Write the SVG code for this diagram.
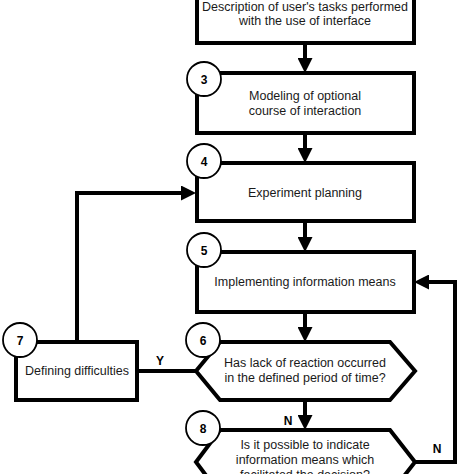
<svg xmlns="http://www.w3.org/2000/svg" width="474" height="474" viewBox="0 0 474 474">
<style>
.box{fill:#fff;stroke:#000;stroke-width:4}
.num{fill:#fff;stroke:#000;stroke-width:1.8}
.t{font-family:"Liberation Sans",Arial,sans-serif;font-size:12.5px;fill:#1a1a1a;text-anchor:middle}
.b{font-family:"Liberation Sans",Arial,sans-serif;font-size:12px;font-weight:bold;fill:#000;text-anchor:middle}
.c{fill:none;stroke:#000;stroke-width:4}
</style>
<defs>
<marker id="ah" markerUnits="userSpaceOnUse" markerWidth="15" markerHeight="15" refX="0" refY="7.5" orient="auto">
<path d="M0,0 L15,7.5 L0,15 z" fill="#000"/>
</marker>
</defs>
<g id="connectors">
<path class="c" d="M305,43 V58" marker-end="url(#ah)"/>
<path class="c" d="M305,133 V148" marker-end="url(#ah)"/>
<path class="c" d="M305,221 V237" marker-end="url(#ah)"/>
<path class="c" d="M305,312 V327" marker-end="url(#ah)"/>
<path class="c" d="M305,400 V415" marker-end="url(#ah)"/>
<path class="c" d="M137,371 H196"/>
<path class="c" d="M77,342 V193 H181" marker-end="url(#ah)"/>
<path class="c" d="M415,462 H455 V282 H429" marker-end="url(#ah)"/>
<text class="b" x="160" y="365">Y</text>
<text class="b" x="288" y="425">N</text>
<text class="b" x="437" y="453">N</text>
</g>
<g id="n2">
<rect class="box" x="197" y="-10" width="217" height="53"/>
<text class="t" x="305" y="11">Description of user's tasks performed</text>
<text class="t" x="305" y="25">with the use of interface</text>
</g>
<g id="n3">
<rect class="box" x="197" y="73" width="217" height="60"/>
<circle class="num" cx="204" cy="79" r="17"/>
<text class="b" x="204" y="83.5">3</text>
<text class="t" x="305" y="100">Modeling of optional</text>
<text class="t" x="305" y="115">course of interaction</text>
</g>
<g id="n4">
<rect class="box" x="197" y="163" width="217" height="58"/>
<circle class="num" cx="204" cy="161" r="17"/>
<text class="b" x="204" y="165.5">4</text>
<text class="t" x="305" y="197">Experiment planning</text>
</g>
<g id="n5">
<rect class="box" x="197" y="252" width="217" height="60"/>
<circle class="num" cx="204" cy="250" r="17"/>
<text class="b" x="204" y="254.5">5</text>
<text class="t" x="305" y="286">Implementing information means</text>
</g>
<g id="n6">
<polygon class="box" points="220,342 390,342 415,371 390,400 220,400 196,371"/>
<circle class="num" cx="203" cy="340" r="17"/>
<text class="b" x="203" y="344.5">6</text>
<text class="t" x="305" y="367">Has lack of reaction occurred</text>
<text class="t" x="305" y="382">in the defined period of time?</text>
</g>
<g id="n7">
<rect class="box" x="16" y="342" width="121" height="58"/>
<circle class="num" cx="20" cy="340" r="17"/>
<text class="b" x="20" y="344.5">7</text>
<text class="t" x="77" y="375">Defining difficulties</text>
</g>
<g id="n8">
<polygon class="box" points="220,430 390,430 415,462 390,494 220,494 196,462"/>
<circle class="num" cx="203" cy="428" r="17"/>
<text class="b" x="203" y="432.5">8</text>
<text class="t" x="305" y="449">Is it possible to indicate</text>
<text class="t" x="305" y="464">information means which</text>
<text class="t" x="305" y="479">facilitated the decision?</text>
</g>
</svg>
